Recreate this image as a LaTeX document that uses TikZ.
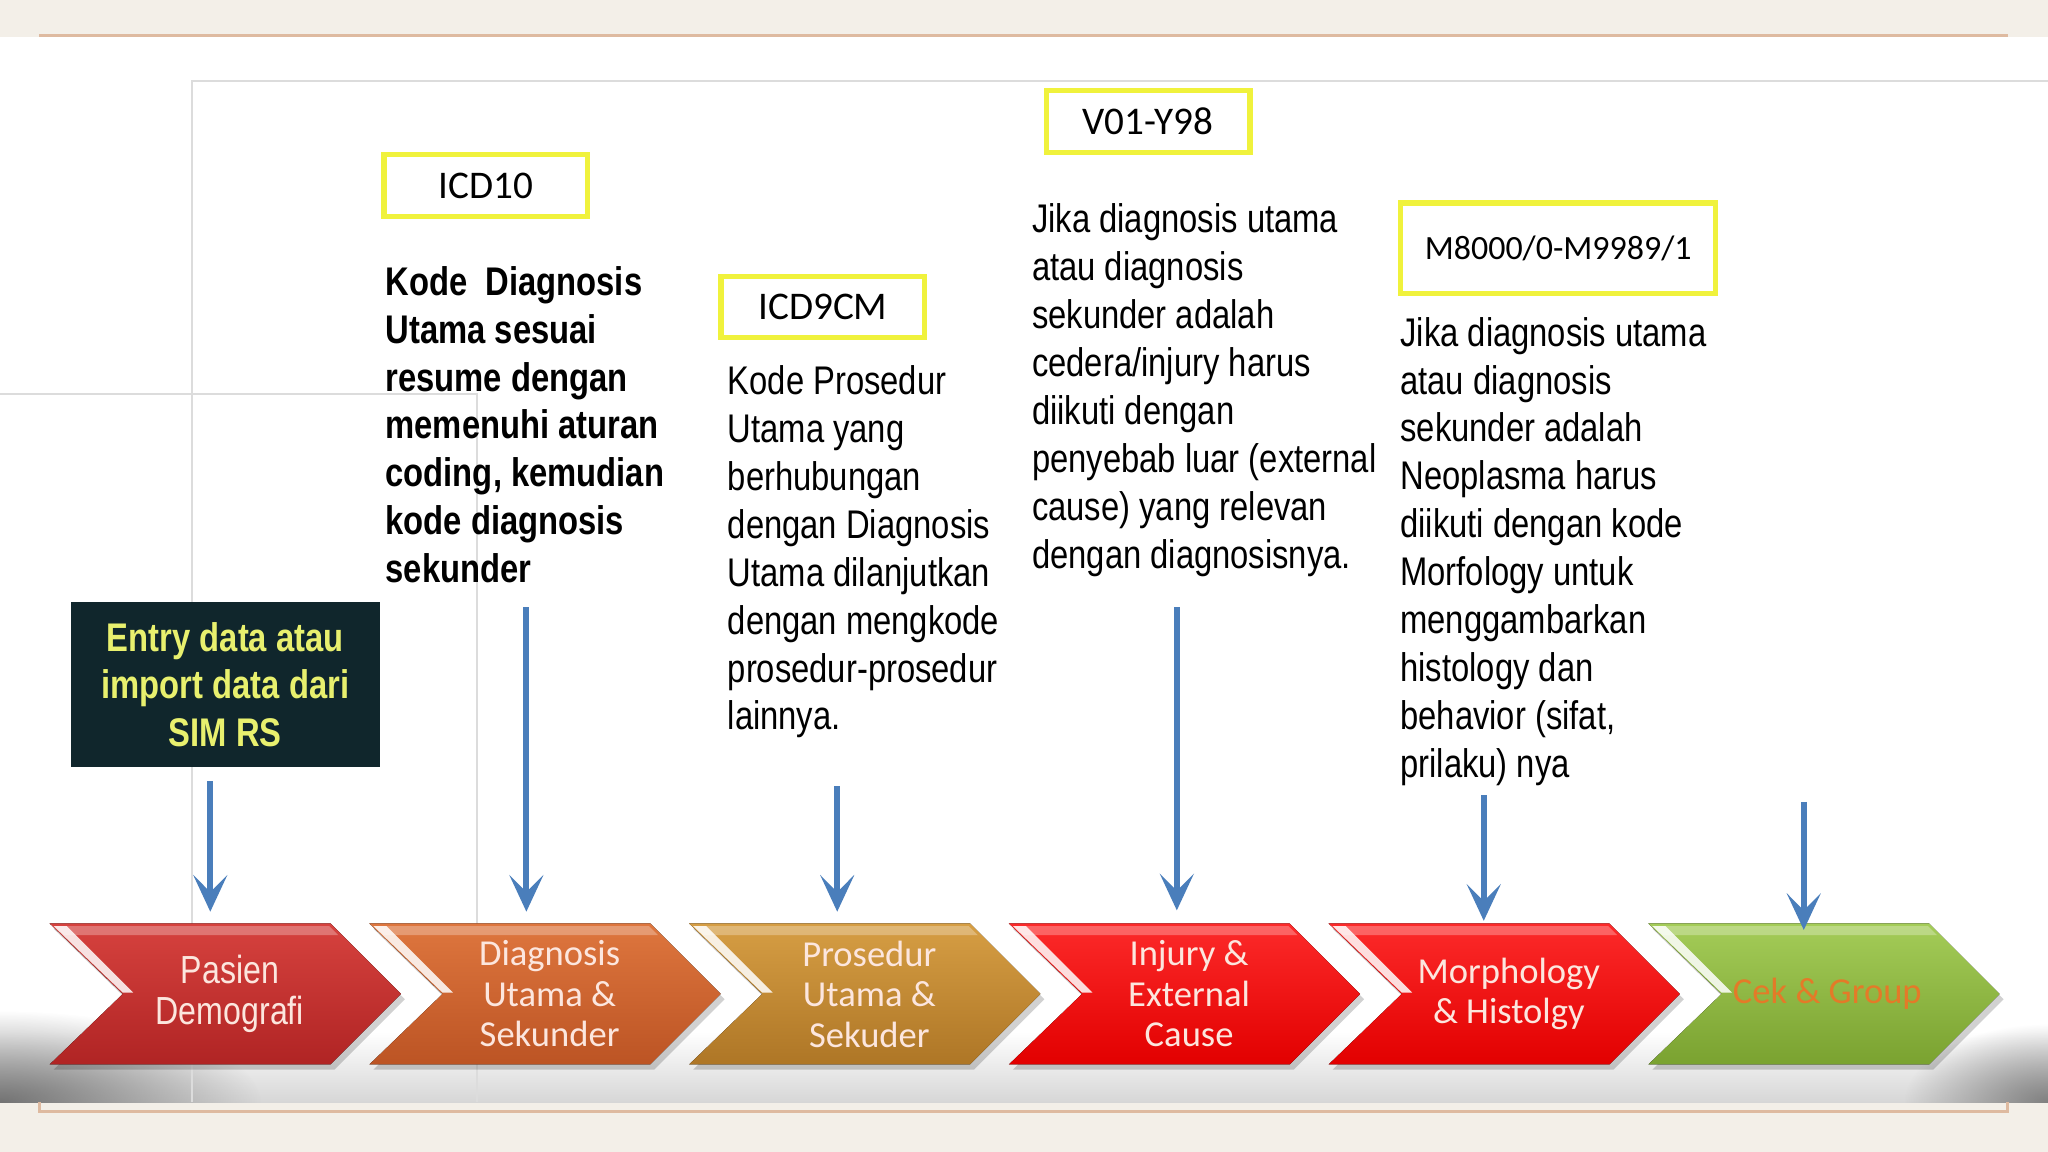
\documentclass[tikz,border=0pt]{standalone}
\usepackage{fontspec}
\usetikzlibrary{arrows.meta,fadings}
\newfontfamily\narrowfont[FakeStretch=0.82]{Liberation Sans}
\newfontfamily\calfont{Carlito}
\definecolor{beige}{RGB}{243,239,232}
\definecolor{tanline}{RGB}{222,186,160}
\definecolor{faint}{RGB}{220,220,220}
\definecolor{boxyellow}{RGB}{240,242,60}
\definecolor{arrowblue}{RGB}{74,126,187}
\definecolor{entrybg}{RGB}{16,38,44}
\definecolor{entrytext}{RGB}{232,240,110}
\definecolor{chevtext}{RGB}{252,230,222}
\definecolor{cekorange}{RGB}{228,122,40}
\definecolor{caT}{RGB}{214,66,62}\definecolor{caB}{RGB}{176,36,36}
\definecolor{cbT}{RGB}{222,118,62}\definecolor{cbB}{RGB}{188,84,36}
\definecolor{ccT}{RGB}{214,158,68}\definecolor{ccB}{RGB}{174,118,38}
\definecolor{cdT}{RGB}{252,42,42}\definecolor{cdB}{RGB}{226,0,0}
\definecolor{ceT}{RGB}{164,204,88}\definecolor{ceB}{RGB}{122,162,48}
\tikzfading[name=cornerfade, inner color=transparent!0, outer color=transparent!100]
\begin{document}
\begin{tikzpicture}[x=1pt,y=-1pt,
  codebox/.style={draw=boxyellow, line width=4pt, minimum width=156pt, minimum height=47pt, inner sep=0pt, font=\calfont\fontsize{30}{36}\selectfont, text=black},
  bodytext/.style={anchor=base west, align=left, inner sep=0pt, text=black, font=\narrowfont\fontsize{30.6}{36.7}\selectfont},
  flow/.style={draw=arrowblue, line width=4.5pt, -{Stealth[length=28pt,width=26pt,inset=13pt]}},
  chevlabel/.style={align=center, inner sep=0pt, text=chevtext, font=\calfont\fontsize{28}{31}\selectfont},
]
\useasboundingbox (0,0) rectangle (1568,882);
% background
\fill[beige] (0,0) rectangle (1568,882);
\fill[white] (0,28) rectangle (1568,844);
\fill[top color=white, bottom color=gray!32] (0,790) rectangle (1568,844);
\begin{scope}
  \clip (0,28) rectangle (1568,844);
  \fill[black!55, path fading=cornerfade] (0,844) ellipse [x radius=200, y radius=70];
  \fill[black!50, path fading=cornerfade] (1568,844) ellipse [x radius=110, y radius=60];
\end{scope}
\draw[tanline, line width=2.5pt] (30,27) -- (1537,27);
\draw[tanline, line width=2.5pt] (30,844) -- (30,851) -- (1537,851) -- (1537,844);
% faint frame lines
\draw[faint, line width=1.5pt] (1568,62) -- (147,62) -- (147,844);
\draw[faint, line width=1.5pt] (0,302) -- (365,302) -- (365,844);

% code boxes
\node[codebox] (icd10) at (372,142) {ICD10};
\node[codebox] (v01) at (879,93) {V01-Y98};
\node[codebox] (icd9) at (630,235) {ICD9CM};
\node[codebox, minimum width=241pt, minimum height=69pt, font=\calfont\fontsize{26}{30}\selectfont] (morf) at (1193,190) {M8000/0-M9989/1};

% body texts (base anchor = baseline of the last line)
\node[bodytext, font=\narrowfont\bfseries\fontsize{30.6}{36.7}\selectfont] (t1) at (295,446.2)
  {Kode\ \ Diagnosis\\Utama sesuai\\resume dengan\\memenuhi aturan\\coding, kemudian\\kode diagnosis\\sekunder};
\node[bodytext] (t2) at (557,558.9)
  {Kode Prosedur\\Utama yang\\berhubungan\\dengan Diagnosis\\Utama dilanjutkan\\dengan mengkode\\prosedur-prosedur\\lainnya.};
\node[bodytext] (t3) at (790,434.9)
  {Jika diagnosis utama\\atau diagnosis\\sekunder adalah\\cedera/injury harus\\diikuti dengan\\penyebab luar (external\\cause) yang relevan\\dengan diagnosisnya.};
\node[bodytext] (t4) at (1072,595.3)
  {Jika diagnosis utama\\atau diagnosis\\sekunder adalah\\Neoplasma harus\\diikuti dengan kode\\Morfology untuk\\menggambarkan\\histology dan\\behavior (sifat,\\prilaku) nya};

% entry box
\node[fill=entrybg, minimum width=237pt, minimum height=126pt, inner sep=0pt, align=center, text=entrytext,
      font=\narrowfont\bfseries\fontsize{30.6}{36.5}\selectfont] (entry) at (172.5,524)
  {Entry data atau\\import data dari\\SIM RS};

% chevrons
\foreach \x/\ct/\cb in {38/caT/caB, 282.8/cbT/cbB, 527.6/ccT/ccB, 772.4/cdT/cdB, 1017.2/cdT/cdB, 1262/ceT/ceB}{
  \fill[black, opacity=0.18] ({\x+3},711) -- ({\x+218},711) -- ({\x+272},765) -- ({\x+218},819) -- ({\x+3},819) -- ({\x+59},765) -- cycle;
  \fill[top color=\ct, bottom color=\cb] (\x,707) -- ({\x+215},707) -- ({\x+269},761) -- ({\x+215},815) -- (\x,815) -- ({\x+56},761) -- cycle;
  \fill[white, opacity=0.28] ({\x+4},709) -- ({\x+214},709) -- ({\x+221},716) -- ({\x+11},716) -- cycle;
  \fill[white, opacity=0.85] ({\x+3},709) -- ({\x+13},709) -- ({\x+64},760) -- ({\x+56},760) -- cycle;
}
\node[chevlabel, font=\narrowfont\fontsize{30}{32}\selectfont] (p1) at (176,761) {Pasien\\Demografi};
\node[chevlabel] (p2) at (420.8,761) {Diagnosis\\Utama \&\\Sekunder};
\node[chevlabel] (p3) at (665.6,761) {Prosedur\\Utama \&\\Sekuder};
\node[chevlabel] (p4) at (910.4,761) {Injury \&\\External\\Cause};
\node[chevlabel] (p5) at (1155.2,761) {Morphology\\\& Histolgy};
\node[chevlabel, text=cekorange] (p6) at (1399,761) {Cek \& Group};

% arrows
\coordinate (s1) at (161,598);  \coordinate (e1) at (161,698);
\coordinate (s2) at (403,465);  \coordinate (e2) at (403,698);
\coordinate (s3) at (641,602);  \coordinate (e3) at (641,698);
\coordinate (s4) at (901,465);  \coordinate (e4) at (901,697);
\coordinate (s5) at (1136,609); \coordinate (e5) at (1136,705);
\coordinate (s6) at (1381,614); \coordinate (e6) at (1381,712);
\foreach \i in {1,...,6}{ \draw[flow] (s\i) -- (e\i); }
\end{tikzpicture}
\end{document}
